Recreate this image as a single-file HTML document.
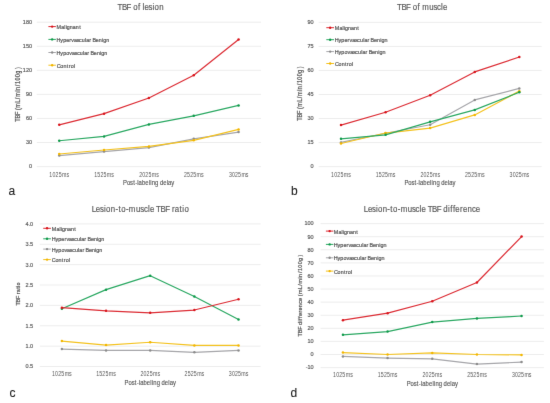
<!DOCTYPE html>
<html><head><meta charset="utf-8"><style>
html,body{margin:0;padding:0;background:#fff;}
body{width:550px;height:403px;overflow:hidden;}
svg{display:block;font-family:"Liberation Sans", sans-serif;}
</style></head><body>
<svg width="550" height="403" viewBox="0 0 550 403">
<defs><filter id="soft" x="0" y="0" width="550" height="403" filterUnits="userSpaceOnUse" color-interpolation-filters="sRGB"><feConvolveMatrix order="3" kernelMatrix="0 1 0 1 12 1 0 1 0" divisor="16" edgeMode="duplicate"/></filter></defs>
<g filter="url(#soft)">
<rect width="550" height="403" fill="#fff"/>
<line x1="36.80" y1="166.60" x2="261.00" y2="166.60" stroke="#ebebeb" stroke-width="0.9"/>
<text x="31.46" y="168.50" font-size="6.00" fill="#595959" stroke="#595959" stroke-width="0.18" transform="scale(0.920 1)">0</text>
<line x1="36.80" y1="142.53" x2="261.00" y2="142.53" stroke="#ebebeb" stroke-width="0.9"/>
<text x="28.16 31.46" y="144.43" font-size="6.00" fill="#595959" stroke="#595959" stroke-width="0.18" transform="scale(0.920 1)">30</text>
<line x1="36.80" y1="118.47" x2="261.00" y2="118.47" stroke="#ebebeb" stroke-width="0.9"/>
<text x="28.16 31.46" y="120.37" font-size="6.00" fill="#595959" stroke="#595959" stroke-width="0.18" transform="scale(0.920 1)">60</text>
<line x1="36.80" y1="94.40" x2="261.00" y2="94.40" stroke="#ebebeb" stroke-width="0.9"/>
<text x="28.16 31.46" y="96.30" font-size="6.00" fill="#595959" stroke="#595959" stroke-width="0.18" transform="scale(0.920 1)">90</text>
<line x1="36.80" y1="70.33" x2="261.00" y2="70.33" stroke="#ebebeb" stroke-width="0.9"/>
<text x="24.85 28.16 31.46" y="72.23" font-size="6.00" fill="#595959" stroke="#595959" stroke-width="0.18" transform="scale(0.920 1)">120</text>
<line x1="36.80" y1="46.27" x2="261.00" y2="46.27" stroke="#ebebeb" stroke-width="0.9"/>
<text x="24.85 28.16 31.46" y="48.17" font-size="6.00" fill="#595959" stroke="#595959" stroke-width="0.18" transform="scale(0.920 1)">150</text>
<line x1="36.80" y1="22.20" x2="261.00" y2="22.20" stroke="#ebebeb" stroke-width="0.9"/>
<text x="24.85 28.16 31.46" y="24.10" font-size="6.00" fill="#595959" stroke="#595959" stroke-width="0.18" transform="scale(0.920 1)">180</text>
<text x="61.68 65.57 69.45 73.33 77.48 83.06" y="176.80" font-size="6.60" fill="#595959" stroke="#595959" stroke-width="0.0" transform="scale(0.800 1)">1025ms</text>
<text x="117.73 121.62 125.50 129.38 133.53 139.11" y="176.80" font-size="6.60" fill="#595959" stroke="#595959" stroke-width="0.0" transform="scale(0.800 1)">1525ms</text>
<text x="173.94 177.80 181.66 185.51 189.64 195.18" y="176.80" font-size="6.60" fill="#595959" stroke="#595959" stroke-width="0.0" transform="scale(0.800 1)">2025ms</text>
<text x="229.99 233.85 237.71 241.56 245.69 251.23" y="176.80" font-size="6.60" fill="#595959" stroke="#595959" stroke-width="0.0" transform="scale(0.800 1)">2525ms</text>
<text x="286.12 289.96 293.81 297.65 301.76 307.29" y="176.80" font-size="6.60" fill="#595959" stroke="#595959" stroke-width="0.0" transform="scale(0.800 1)">3025ms</text>
<text x="139.91 144.21 147.86 151.33 153.57 155.95 157.52 161.30 165.16 169.01 170.74 172.47 176.23 179.78 181.69 185.54 189.39 190.95 194.65" y="185.20" font-size="6.70" fill="#595959" stroke="#595959" stroke-width="0.15" transform="scale(0.880 1)">Post-labeling&#160;delay</text>
<text x="133.55 138.50 143.81 148.74 151.30 156.73 159.41 161.96 164.14 168.87 173.23 175.56 180.87" y="10.40" font-size="8.90" fill="#595959" stroke="#595959" stroke-width="0.18" transform="scale(0.880 1)">TBF&#160;of&#160;lesion</text>
<g transform="translate(17.60,94.50) rotate(-90)">
<text x="-31.00 -27.23 -23.19 -19.43 -17.58 -15.04 -9.42 -5.38 -2.70 3.31 5.08 9.52 12.02 15.91 19.80 23.56 27.17 29.02" y="2.00" font-size="6.30" fill="#595959" stroke="#595959" stroke-width="0.24" transform="scale(0.880 1)">TBF&#160;(mL/min/100g&#160;)</text>
</g>
<text x="8.60" y="195.00" font-size="12" fill="#222222" stroke="#222222" stroke-width="0.1">a</text>
<polyline points="59.22,155.61 104.06,151.60 148.90,147.59 193.74,138.84 238.58,132.10" fill="none" stroke="#a6a6aa" stroke-width="1.2" stroke-linejoin="round"/>
<circle cx="59.22" cy="155.61" r="1.25" fill="#8c8c8c"/>
<circle cx="104.06" cy="151.60" r="1.25" fill="#8c8c8c"/>
<circle cx="148.90" cy="147.59" r="1.25" fill="#8c8c8c"/>
<circle cx="193.74" cy="138.84" r="1.25" fill="#8c8c8c"/>
<circle cx="238.58" cy="132.10" r="1.25" fill="#8c8c8c"/>
<polyline points="59.22,154.01 104.06,149.99 148.90,146.38 193.74,140.37 238.58,129.38" fill="none" stroke="#f4c21e" stroke-width="1.2" stroke-linejoin="round"/>
<circle cx="59.22" cy="154.01" r="1.25" fill="#f2b600"/>
<circle cx="104.06" cy="149.99" r="1.25" fill="#f2b600"/>
<circle cx="148.90" cy="146.38" r="1.25" fill="#f2b600"/>
<circle cx="193.74" cy="140.37" r="1.25" fill="#f2b600"/>
<circle cx="238.58" cy="129.38" r="1.25" fill="#f2b600"/>
<polyline points="59.22,140.77 104.06,136.44 148.90,124.40 193.74,115.82 238.58,105.39" fill="none" stroke="#2aa862" stroke-width="1.2" stroke-linejoin="round"/>
<circle cx="59.22" cy="140.77" r="1.25" fill="#0f9a4a"/>
<circle cx="104.06" cy="136.44" r="1.25" fill="#0f9a4a"/>
<circle cx="148.90" cy="124.40" r="1.25" fill="#0f9a4a"/>
<circle cx="193.74" cy="115.82" r="1.25" fill="#0f9a4a"/>
<circle cx="238.58" cy="105.39" r="1.25" fill="#0f9a4a"/>
<polyline points="59.22,124.80 104.06,113.65 148.90,98.01 193.74,75.31 238.58,39.45" fill="none" stroke="#dc2c34" stroke-width="1.2" stroke-linejoin="round"/>
<circle cx="59.22" cy="124.80" r="1.25" fill="#d9161d"/>
<circle cx="104.06" cy="113.65" r="1.25" fill="#d9161d"/>
<circle cx="148.90" cy="98.01" r="1.25" fill="#d9161d"/>
<circle cx="193.74" cy="75.31" r="1.25" fill="#d9161d"/>
<circle cx="238.58" cy="39.45" r="1.25" fill="#d9161d"/>
<line x1="48.40" y1="26.60" x2="55.90" y2="26.60" stroke="#dc2c34" stroke-width="1.0"/>
<circle cx="52.15" cy="26.60" r="1.2" fill="#d9161d"/>
<text x="64.28 69.65 73.05 74.62 76.00 79.38 82.80 86.21 89.97" y="29.10" font-size="6.10" fill="#595959" stroke="#595959" stroke-width="0.24" transform="scale(0.880 1)">Malignant</text>
<line x1="48.40" y1="39.40" x2="55.90" y2="39.40" stroke="#2aa862" stroke-width="1.0"/>
<circle cx="52.15" cy="39.40" r="1.2" fill="#0f9a4a"/>
<text x="64.28 68.61 71.76 75.24 78.79 81.01 84.01 87.14 89.91 92.97 96.53 97.94 101.43 103.55 105.00 108.88 112.36 115.92 117.31 120.70" y="41.90" font-size="6.10" fill="#595959" stroke="#595959" stroke-width="0.24" transform="scale(0.880 1)">Hypervascular&#160;Benign</text>
<line x1="48.40" y1="52.50" x2="55.90" y2="52.50" stroke="#a6a6aa" stroke-width="1.0"/>
<circle cx="52.15" cy="52.50" r="1.2" fill="#8c8c8c"/>
<text x="64.28 68.60 71.75 75.33 78.82 81.81 84.93 87.70 90.75 94.31 95.72 99.20 101.31 102.76 106.63 110.10 113.67 115.05 118.43" y="55.00" font-size="6.10" fill="#595959" stroke="#595959" stroke-width="0.24" transform="scale(0.880 1)">Hypovascular&#160;Benign</text>
<line x1="48.40" y1="65.20" x2="55.90" y2="65.20" stroke="#f4c21e" stroke-width="1.0"/>
<circle cx="52.15" cy="65.20" r="1.2" fill="#f2b600"/>
<text x="64.47 68.55 72.11 75.85 78.00 80.30 83.85" y="67.70" font-size="6.10" fill="#595959" stroke="#595959" stroke-width="0.24" transform="scale(0.880 1)">Control</text>
<line x1="318.70" y1="166.60" x2="541.60" y2="166.60" stroke="#ebebeb" stroke-width="0.9"/>
<text x="337.44" y="168.50" font-size="6.00" fill="#595959" stroke="#595959" stroke-width="0.18" transform="scale(0.920 1)">0</text>
<line x1="318.70" y1="142.57" x2="541.60" y2="142.57" stroke="#ebebeb" stroke-width="0.9"/>
<text x="334.15 337.46" y="144.47" font-size="6.00" fill="#595959" stroke="#595959" stroke-width="0.18" transform="scale(0.920 1)">15</text>
<line x1="318.70" y1="118.53" x2="541.60" y2="118.53" stroke="#ebebeb" stroke-width="0.9"/>
<text x="334.14 337.44" y="120.43" font-size="6.00" fill="#595959" stroke="#595959" stroke-width="0.18" transform="scale(0.920 1)">30</text>
<line x1="318.70" y1="94.50" x2="541.60" y2="94.50" stroke="#ebebeb" stroke-width="0.9"/>
<text x="334.15 337.46" y="96.40" font-size="6.00" fill="#595959" stroke="#595959" stroke-width="0.18" transform="scale(0.920 1)">45</text>
<line x1="318.70" y1="70.47" x2="541.60" y2="70.47" stroke="#ebebeb" stroke-width="0.9"/>
<text x="334.14 337.44" y="72.37" font-size="6.00" fill="#595959" stroke="#595959" stroke-width="0.18" transform="scale(0.920 1)">60</text>
<line x1="318.70" y1="46.43" x2="541.60" y2="46.43" stroke="#ebebeb" stroke-width="0.9"/>
<text x="334.15 337.46" y="48.33" font-size="6.00" fill="#595959" stroke="#595959" stroke-width="0.18" transform="scale(0.920 1)">75</text>
<line x1="318.70" y1="22.40" x2="541.60" y2="22.40" stroke="#ebebeb" stroke-width="0.9"/>
<text x="334.14 337.44" y="24.30" font-size="6.00" fill="#595959" stroke="#595959" stroke-width="0.18" transform="scale(0.920 1)">90</text>
<text x="413.90 417.78 421.66 425.54 429.69 435.27" y="176.70" font-size="6.60" fill="#595959" stroke="#595959" stroke-width="0.0" transform="scale(0.800 1)">1025ms</text>
<text x="469.62 473.50 477.38 481.27 485.42 491.00" y="176.70" font-size="6.60" fill="#595959" stroke="#595959" stroke-width="0.0" transform="scale(0.800 1)">1525ms</text>
<text x="525.51 529.36 533.22 537.07 541.20 546.74" y="176.70" font-size="6.60" fill="#595959" stroke="#595959" stroke-width="0.0" transform="scale(0.800 1)">2025ms</text>
<text x="581.23 585.09 588.94 592.80 596.92 602.46" y="176.70" font-size="6.60" fill="#595959" stroke="#595959" stroke-width="0.0" transform="scale(0.800 1)">2525ms</text>
<text x="637.03 640.88 644.72 648.56 652.68 658.20" y="176.70" font-size="6.60" fill="#595959" stroke="#595959" stroke-width="0.0" transform="scale(0.800 1)">3025ms</text>
<text x="459.68 463.98 467.62 471.09 473.31 475.70 477.26 481.03 484.88 488.72 490.45 492.18 495.93 499.47 501.38 505.23 509.07 510.63 514.32" y="185.40" font-size="6.70" fill="#595959" stroke="#595959" stroke-width="0.15" transform="scale(0.880 1)">Post-labeling&#160;delay</text>
<text x="451.28 456.22 461.51 466.43 468.99 474.41 477.08 479.78 487.67 492.53 496.62 501.13 503.31" y="10.40" font-size="8.90" fill="#595959" stroke="#595959" stroke-width="0.18" transform="scale(0.880 1)">TBF&#160;of&#160;muscle</text>
<g transform="translate(299.60,93.60) rotate(-90)">
<text x="-30.83 -27.08 -23.06 -19.32 -17.49 -14.96 -9.37 -5.35 -2.69 3.29 5.05 9.47 11.95 15.82 19.69 23.43 27.02 28.86" y="2.00" font-size="6.30" fill="#595959" stroke="#595959" stroke-width="0.24" transform="scale(0.880 1)">TBF&#160;(mL/min/100g&#160;)</text>
</g>
<text x="291.00" y="194.80" font-size="12" fill="#222222" stroke="#222222" stroke-width="0.1">b</text>
<polyline points="340.99,142.41 385.57,133.27 430.15,124.78 474.73,99.95 519.31,88.41" fill="none" stroke="#a6a6aa" stroke-width="1.2" stroke-linejoin="round"/>
<circle cx="340.99" cy="142.41" r="1.25" fill="#8c8c8c"/>
<circle cx="385.57" cy="133.27" r="1.25" fill="#8c8c8c"/>
<circle cx="430.15" cy="124.78" r="1.25" fill="#8c8c8c"/>
<circle cx="474.73" cy="99.95" r="1.25" fill="#8c8c8c"/>
<circle cx="519.31" cy="88.41" r="1.25" fill="#8c8c8c"/>
<polyline points="340.99,143.53 385.57,133.03 430.15,128.07 474.73,114.93 519.31,91.14" fill="none" stroke="#f4c21e" stroke-width="1.2" stroke-linejoin="round"/>
<circle cx="340.99" cy="143.53" r="1.25" fill="#f2b600"/>
<circle cx="385.57" cy="133.03" r="1.25" fill="#f2b600"/>
<circle cx="430.15" cy="128.07" r="1.25" fill="#f2b600"/>
<circle cx="474.73" cy="114.93" r="1.25" fill="#f2b600"/>
<circle cx="519.31" cy="91.14" r="1.25" fill="#f2b600"/>
<polyline points="340.99,138.80 385.57,134.80 430.15,121.82 474.73,109.88 519.31,92.26" fill="none" stroke="#2aa862" stroke-width="1.2" stroke-linejoin="round"/>
<circle cx="340.99" cy="138.80" r="1.25" fill="#0f9a4a"/>
<circle cx="385.57" cy="134.80" r="1.25" fill="#0f9a4a"/>
<circle cx="430.15" cy="121.82" r="1.25" fill="#0f9a4a"/>
<circle cx="474.73" cy="109.88" r="1.25" fill="#0f9a4a"/>
<circle cx="519.31" cy="92.26" r="1.25" fill="#0f9a4a"/>
<polyline points="340.99,125.05 385.57,112.28 430.15,95.30 474.73,71.91 519.31,57.01" fill="none" stroke="#dc2c34" stroke-width="1.2" stroke-linejoin="round"/>
<circle cx="340.99" cy="125.05" r="1.25" fill="#d9161d"/>
<circle cx="385.57" cy="112.28" r="1.25" fill="#d9161d"/>
<circle cx="430.15" cy="95.30" r="1.25" fill="#d9161d"/>
<circle cx="474.73" cy="71.91" r="1.25" fill="#d9161d"/>
<circle cx="519.31" cy="57.01" r="1.25" fill="#d9161d"/>
<line x1="326.30" y1="27.70" x2="334.00" y2="27.70" stroke="#dc2c34" stroke-width="1.0"/>
<circle cx="330.15" cy="27.70" r="1.2" fill="#d9161d"/>
<text x="380.42 385.78 389.19 390.75 392.13 395.52 398.94 402.35 406.11" y="30.20" font-size="6.10" fill="#595959" stroke="#595959" stroke-width="0.24" transform="scale(0.880 1)">Malignant</text>
<line x1="326.30" y1="39.70" x2="334.00" y2="39.70" stroke="#2aa862" stroke-width="1.0"/>
<circle cx="330.15" cy="39.70" r="1.2" fill="#0f9a4a"/>
<text x="380.42 384.74 387.90 391.38 394.93 397.15 400.15 403.28 406.04 409.10 412.67 414.08 417.56 419.68 421.14 425.01 428.49 432.06 433.44 436.83" y="42.20" font-size="6.10" fill="#595959" stroke="#595959" stroke-width="0.24" transform="scale(0.880 1)">Hypervascular&#160;Benign</text>
<line x1="326.30" y1="51.60" x2="334.00" y2="51.60" stroke="#a6a6aa" stroke-width="1.0"/>
<circle cx="330.15" cy="51.60" r="1.2" fill="#8c8c8c"/>
<text x="380.42 384.74 387.89 391.46 394.96 397.95 401.07 403.83 406.89 410.45 411.85 415.33 417.45 418.90 422.77 426.24 429.80 431.18 434.56" y="54.10" font-size="6.10" fill="#595959" stroke="#595959" stroke-width="0.24" transform="scale(0.880 1)">Hypovascular&#160;Benign</text>
<line x1="326.30" y1="63.50" x2="334.00" y2="63.50" stroke="#f4c21e" stroke-width="1.0"/>
<circle cx="330.15" cy="63.50" r="1.2" fill="#f2b600"/>
<text x="380.61 384.69 388.25 391.99 394.13 396.43 399.98" y="66.00" font-size="6.10" fill="#595959" stroke="#595959" stroke-width="0.24" transform="scale(0.880 1)">Control</text>
<line x1="39.80" y1="366.50" x2="260.60" y2="366.50" stroke="#ebebeb" stroke-width="0.9"/>
<text x="27.72 31.03 32.68" y="368.40" font-size="6.00" fill="#595959" stroke="#595959" stroke-width="0.18" transform="scale(0.920 1)">0.5</text>
<line x1="39.80" y1="346.13" x2="260.60" y2="346.13" stroke="#ebebeb" stroke-width="0.9"/>
<text x="27.71 31.02 32.66" y="348.03" font-size="6.00" fill="#595959" stroke="#595959" stroke-width="0.18" transform="scale(0.920 1)">1.0</text>
<line x1="39.80" y1="325.76" x2="260.60" y2="325.76" stroke="#ebebeb" stroke-width="0.9"/>
<text x="27.72 31.03 32.68" y="327.66" font-size="6.00" fill="#595959" stroke="#595959" stroke-width="0.18" transform="scale(0.920 1)">1.5</text>
<line x1="39.80" y1="305.39" x2="260.60" y2="305.39" stroke="#ebebeb" stroke-width="0.9"/>
<text x="27.71 31.02 32.66" y="307.29" font-size="6.00" fill="#595959" stroke="#595959" stroke-width="0.18" transform="scale(0.920 1)">2.0</text>
<line x1="39.80" y1="285.01" x2="260.60" y2="285.01" stroke="#ebebeb" stroke-width="0.9"/>
<text x="27.72 31.03 32.68" y="286.91" font-size="6.00" fill="#595959" stroke="#595959" stroke-width="0.18" transform="scale(0.920 1)">2.5</text>
<line x1="39.80" y1="264.64" x2="260.60" y2="264.64" stroke="#ebebeb" stroke-width="0.9"/>
<text x="27.71 31.02 32.66" y="266.54" font-size="6.00" fill="#595959" stroke="#595959" stroke-width="0.18" transform="scale(0.920 1)">3.0</text>
<line x1="39.80" y1="244.27" x2="260.60" y2="244.27" stroke="#ebebeb" stroke-width="0.9"/>
<text x="27.72 31.03 32.68" y="246.17" font-size="6.00" fill="#595959" stroke="#595959" stroke-width="0.18" transform="scale(0.920 1)">3.5</text>
<line x1="39.80" y1="223.90" x2="260.60" y2="223.90" stroke="#ebebeb" stroke-width="0.9"/>
<text x="27.71 31.02 32.66" y="225.80" font-size="6.00" fill="#595959" stroke="#595959" stroke-width="0.18" transform="scale(0.920 1)">4.0</text>
<text x="65.01 68.89 72.77 76.65 80.81 86.38" y="376.30" font-size="6.60" fill="#595959" stroke="#595959" stroke-width="0.0" transform="scale(0.800 1)">1025ms</text>
<text x="120.21 124.09 127.97 131.85 136.01 141.58" y="376.30" font-size="6.60" fill="#595959" stroke="#595959" stroke-width="0.0" transform="scale(0.800 1)">1525ms</text>
<text x="175.57 179.42 183.28 187.14 191.26 196.80" y="376.30" font-size="6.60" fill="#595959" stroke="#595959" stroke-width="0.0" transform="scale(0.800 1)">2025ms</text>
<text x="230.77 234.62 238.48 242.34 246.46 252.00" y="376.30" font-size="6.60" fill="#595959" stroke="#595959" stroke-width="0.0" transform="scale(0.800 1)">2525ms</text>
<text x="286.04 289.89 293.73 297.58 301.69 307.21" y="376.30" font-size="6.60" fill="#595959" stroke="#595959" stroke-width="0.0" transform="scale(0.800 1)">3025ms</text>
<text x="141.61 145.92 149.58 153.06 155.30 157.69 159.26 163.05 166.91 170.77 172.50 174.24 178.00 181.56 183.47 187.34 191.19 192.76 196.46" y="385.20" font-size="6.70" fill="#595959" stroke="#595959" stroke-width="0.15" transform="scale(0.880 1)">Post-labeling&#160;delay</text>
<text x="104.26 108.95 113.73 118.15 120.51 125.88 131.13 134.65 137.80 143.06 146.45 154.45 159.38 163.53 168.11 170.32 175.26 177.41 182.42 187.79 192.78 195.47 198.69 204.09 207.22 209.59" y="212.10" font-size="8.90" fill="#595959" stroke="#595959" stroke-width="0.18" transform="scale(0.880 1)">Lesion-to-muscle&#160;TBF&#160;ratio</text>
<g transform="translate(17.90,294.00) rotate(-90)">
<text x="-13.21 -9.63 -5.80 -2.23 -0.31 1.99 5.85 8.08 9.77" y="2.00" font-size="6.20" fill="#595959" stroke="#595959" stroke-width="0.24" transform="scale(0.880 1)">TBF&#160;ratio</text>
</g>
<text x="9.40" y="396.80" font-size="12" fill="#222222" stroke="#222222" stroke-width="0.1">c</text>
<polyline points="61.88,349.06 106.04,350.41 150.20,350.41 194.36,352.32 238.52,350.41" fill="none" stroke="#a6a6aa" stroke-width="1.2" stroke-linejoin="round"/>
<circle cx="61.88" cy="349.06" r="1.25" fill="#8c8c8c"/>
<circle cx="106.04" cy="350.41" r="1.25" fill="#8c8c8c"/>
<circle cx="150.20" cy="350.41" r="1.25" fill="#8c8c8c"/>
<circle cx="194.36" cy="352.32" r="1.25" fill="#8c8c8c"/>
<circle cx="238.52" cy="350.41" r="1.25" fill="#8c8c8c"/>
<polyline points="61.88,341.04 106.04,345.07 150.20,342.26 194.36,345.40 238.52,345.40" fill="none" stroke="#f4c21e" stroke-width="1.2" stroke-linejoin="round"/>
<circle cx="61.88" cy="341.04" r="1.25" fill="#f2b600"/>
<circle cx="106.04" cy="345.07" r="1.25" fill="#f2b600"/>
<circle cx="150.20" cy="342.26" r="1.25" fill="#f2b600"/>
<circle cx="194.36" cy="345.40" r="1.25" fill="#f2b600"/>
<circle cx="238.52" cy="345.40" r="1.25" fill="#f2b600"/>
<polyline points="61.88,308.81 106.04,289.66 150.20,275.68 194.36,296.42 238.52,319.56" fill="none" stroke="#2aa862" stroke-width="1.2" stroke-linejoin="round"/>
<circle cx="61.88" cy="308.81" r="1.25" fill="#0f9a4a"/>
<circle cx="106.04" cy="289.66" r="1.25" fill="#0f9a4a"/>
<circle cx="150.20" cy="275.68" r="1.25" fill="#0f9a4a"/>
<circle cx="194.36" cy="296.42" r="1.25" fill="#0f9a4a"/>
<circle cx="238.52" cy="319.56" r="1.25" fill="#0f9a4a"/>
<polyline points="61.88,307.63 106.04,310.80 150.20,312.80 194.36,310.03 238.52,299.27" fill="none" stroke="#dc2c34" stroke-width="1.2" stroke-linejoin="round"/>
<circle cx="61.88" cy="307.63" r="1.25" fill="#d9161d"/>
<circle cx="106.04" cy="310.80" r="1.25" fill="#d9161d"/>
<circle cx="150.20" cy="312.80" r="1.25" fill="#d9161d"/>
<circle cx="194.36" cy="310.03" r="1.25" fill="#d9161d"/>
<circle cx="238.52" cy="299.27" r="1.25" fill="#d9161d"/>
<line x1="43.20" y1="228.30" x2="50.90" y2="228.30" stroke="#dc2c34" stroke-width="1.0"/>
<circle cx="47.05" cy="228.30" r="1.2" fill="#d9161d"/>
<text x="58.71 64.08 67.49 69.05 70.43 73.82 77.23 80.65 84.40" y="230.80" font-size="6.10" fill="#595959" stroke="#595959" stroke-width="0.24" transform="scale(0.880 1)">Malignant</text>
<line x1="43.20" y1="238.80" x2="50.90" y2="238.80" stroke="#2aa862" stroke-width="1.0"/>
<circle cx="47.05" cy="238.80" r="1.2" fill="#0f9a4a"/>
<text x="58.71 63.04 66.20 69.68 73.22 75.45 78.44 81.57 84.34 87.40 90.97 92.38 95.86 97.98 99.43 103.31 106.79 110.36 111.74 115.13" y="241.30" font-size="6.10" fill="#595959" stroke="#595959" stroke-width="0.24" transform="scale(0.880 1)">Hypervascular&#160;Benign</text>
<line x1="43.20" y1="249.10" x2="50.90" y2="249.10" stroke="#a6a6aa" stroke-width="1.0"/>
<circle cx="47.05" cy="249.10" r="1.2" fill="#8c8c8c"/>
<text x="58.71 63.03 66.18 69.76 73.25 76.24 79.37 82.13 85.18 88.74 90.15 93.63 95.74 97.20 101.06 104.54 108.10 109.48 112.86" y="251.60" font-size="6.10" fill="#595959" stroke="#595959" stroke-width="0.24" transform="scale(0.880 1)">Hypovascular&#160;Benign</text>
<line x1="43.20" y1="259.60" x2="50.90" y2="259.60" stroke="#f4c21e" stroke-width="1.0"/>
<circle cx="47.05" cy="259.60" r="1.2" fill="#f2b600"/>
<text x="58.90 62.98 66.54 70.28 72.43 74.73 78.28" y="262.10" font-size="6.10" fill="#595959" stroke="#595959" stroke-width="0.24" transform="scale(0.880 1)">Control</text>
<line x1="320.60" y1="367.60" x2="543.90" y2="367.60" stroke="#ebebeb" stroke-width="0.9"/>
<text x="332.26 334.24 337.55" y="369.50" font-size="6.00" fill="#595959" stroke="#595959" stroke-width="0.18" transform="scale(0.920 1)">-10</text>
<line x1="320.60" y1="354.51" x2="543.90" y2="354.51" stroke="#ebebeb" stroke-width="0.9"/>
<text x="337.55" y="356.41" font-size="6.00" fill="#595959" stroke="#595959" stroke-width="0.18" transform="scale(0.920 1)">0</text>
<line x1="320.60" y1="341.42" x2="543.90" y2="341.42" stroke="#ebebeb" stroke-width="0.9"/>
<text x="334.24 337.55" y="343.32" font-size="6.00" fill="#595959" stroke="#595959" stroke-width="0.18" transform="scale(0.920 1)">10</text>
<line x1="320.60" y1="328.33" x2="543.90" y2="328.33" stroke="#ebebeb" stroke-width="0.9"/>
<text x="334.24 337.55" y="330.23" font-size="6.00" fill="#595959" stroke="#595959" stroke-width="0.18" transform="scale(0.920 1)">20</text>
<line x1="320.60" y1="315.24" x2="543.90" y2="315.24" stroke="#ebebeb" stroke-width="0.9"/>
<text x="334.24 337.55" y="317.14" font-size="6.00" fill="#595959" stroke="#595959" stroke-width="0.18" transform="scale(0.920 1)">30</text>
<line x1="320.60" y1="302.15" x2="543.90" y2="302.15" stroke="#ebebeb" stroke-width="0.9"/>
<text x="334.24 337.55" y="304.05" font-size="6.00" fill="#595959" stroke="#595959" stroke-width="0.18" transform="scale(0.920 1)">40</text>
<line x1="320.60" y1="289.05" x2="543.90" y2="289.05" stroke="#ebebeb" stroke-width="0.9"/>
<text x="334.24 337.55" y="290.95" font-size="6.00" fill="#595959" stroke="#595959" stroke-width="0.18" transform="scale(0.920 1)">50</text>
<line x1="320.60" y1="275.96" x2="543.90" y2="275.96" stroke="#ebebeb" stroke-width="0.9"/>
<text x="334.24 337.55" y="277.86" font-size="6.00" fill="#595959" stroke="#595959" stroke-width="0.18" transform="scale(0.920 1)">60</text>
<line x1="320.60" y1="262.87" x2="543.90" y2="262.87" stroke="#ebebeb" stroke-width="0.9"/>
<text x="334.24 337.55" y="264.77" font-size="6.00" fill="#595959" stroke="#595959" stroke-width="0.18" transform="scale(0.920 1)">70</text>
<line x1="320.60" y1="249.78" x2="543.90" y2="249.78" stroke="#ebebeb" stroke-width="0.9"/>
<text x="334.24 337.55" y="251.68" font-size="6.00" fill="#595959" stroke="#595959" stroke-width="0.18" transform="scale(0.920 1)">80</text>
<line x1="320.60" y1="236.69" x2="543.90" y2="236.69" stroke="#ebebeb" stroke-width="0.9"/>
<text x="334.24 337.55" y="238.59" font-size="6.00" fill="#595959" stroke="#595959" stroke-width="0.18" transform="scale(0.920 1)">90</text>
<line x1="320.60" y1="223.60" x2="543.90" y2="223.60" stroke="#ebebeb" stroke-width="0.9"/>
<text x="330.94 334.24 337.55" y="225.50" font-size="6.00" fill="#595959" stroke="#595959" stroke-width="0.18" transform="scale(0.920 1)">100</text>
<text x="416.32 420.20 424.08 427.97 432.12 437.70" y="377.00" font-size="6.60" fill="#595959" stroke="#595959" stroke-width="0.0" transform="scale(0.800 1)">1025ms</text>
<text x="472.15 476.03 479.91 483.79 487.94 493.52" y="377.00" font-size="6.60" fill="#595959" stroke="#595959" stroke-width="0.0" transform="scale(0.800 1)">1525ms</text>
<text x="528.13 531.99 535.84 539.70 543.82 549.36" y="377.00" font-size="6.60" fill="#595959" stroke="#595959" stroke-width="0.0" transform="scale(0.800 1)">2025ms</text>
<text x="583.96 587.81 591.67 595.52 599.65 605.19" y="377.00" font-size="6.60" fill="#595959" stroke="#595959" stroke-width="0.0" transform="scale(0.800 1)">2525ms</text>
<text x="639.86 643.70 647.54 651.39 655.50 661.02" y="377.00" font-size="6.60" fill="#595959" stroke="#595959" stroke-width="0.0" transform="scale(0.800 1)">3025ms</text>
<text x="462.18 466.49 470.15 473.63 475.87 478.26 479.82 483.62 487.48 491.34 493.07 494.81 498.57 502.13 504.04 507.90 511.76 513.33 517.03" y="386.00" font-size="6.70" fill="#595959" stroke="#595959" stroke-width="0.15" transform="scale(0.880 1)">Post-labeling&#160;delay</text>
<text x="413.47 418.12 422.86 427.24 429.58 434.91 440.11 443.60 446.72 451.94 455.30 463.23 468.12 472.24 476.78 478.97 483.87 485.99 490.96 496.29 501.24 503.80 509.11 511.57 514.66 517.48 522.75 526.04 531.22 536.26 540.67" y="212.10" font-size="8.90" fill="#595959" stroke="#595959" stroke-width="0.18" transform="scale(0.880 1)">Lesion-to-muscle&#160;TBF&#160;difference</text>
<g transform="translate(299.70,295.60) rotate(-90)">
<text x="-46.45 -42.79 -38.86 -35.21 -33.32 -29.41 -27.60 -25.32 -23.24 -19.35 -16.93 -13.11 -9.39 -6.14 -2.53 -0.74 1.73 7.19 11.12 13.72 19.56 21.28 25.59 28.01 31.79 35.57 39.22 42.73 44.53" y="2.00" font-size="6.20" fill="#595959" stroke="#595959" stroke-width="0.24" transform="scale(0.880 1)">TBF&#160;difference&#160;(mL/min/100g&#160;)</text>
</g>
<text x="290.60" y="396.50" font-size="12" fill="#222222" stroke="#222222" stroke-width="0.1">d</text>
<polyline points="342.93,356.47 387.59,358.04 432.25,358.83 476.91,364.07 521.57,362.10" fill="none" stroke="#a6a6aa" stroke-width="1.2" stroke-linejoin="round"/>
<circle cx="342.93" cy="356.47" r="1.25" fill="#8c8c8c"/>
<circle cx="387.59" cy="358.04" r="1.25" fill="#8c8c8c"/>
<circle cx="432.25" cy="358.83" r="1.25" fill="#8c8c8c"/>
<circle cx="476.91" cy="364.07" r="1.25" fill="#8c8c8c"/>
<circle cx="521.57" cy="362.10" r="1.25" fill="#8c8c8c"/>
<polyline points="342.93,352.55 387.59,354.51 432.25,352.94 476.91,354.51 521.57,354.90" fill="none" stroke="#f4c21e" stroke-width="1.2" stroke-linejoin="round"/>
<circle cx="342.93" cy="352.55" r="1.25" fill="#f2b600"/>
<circle cx="387.59" cy="354.51" r="1.25" fill="#f2b600"/>
<circle cx="432.25" cy="352.94" r="1.25" fill="#f2b600"/>
<circle cx="476.91" cy="354.51" r="1.25" fill="#f2b600"/>
<circle cx="521.57" cy="354.90" r="1.25" fill="#f2b600"/>
<polyline points="342.93,334.87 387.59,331.60 432.25,322.04 476.91,318.38 521.57,316.02" fill="none" stroke="#2aa862" stroke-width="1.2" stroke-linejoin="round"/>
<circle cx="342.93" cy="334.87" r="1.25" fill="#0f9a4a"/>
<circle cx="387.59" cy="331.60" r="1.25" fill="#0f9a4a"/>
<circle cx="432.25" cy="322.04" r="1.25" fill="#0f9a4a"/>
<circle cx="476.91" cy="318.38" r="1.25" fill="#0f9a4a"/>
<circle cx="521.57" cy="316.02" r="1.25" fill="#0f9a4a"/>
<polyline points="342.93,320.21 387.59,313.14 432.25,301.23 476.91,282.51 521.57,236.56" fill="none" stroke="#dc2c34" stroke-width="1.2" stroke-linejoin="round"/>
<circle cx="342.93" cy="320.21" r="1.25" fill="#d9161d"/>
<circle cx="387.59" cy="313.14" r="1.25" fill="#d9161d"/>
<circle cx="432.25" cy="301.23" r="1.25" fill="#d9161d"/>
<circle cx="476.91" cy="282.51" r="1.25" fill="#d9161d"/>
<circle cx="521.57" cy="236.56" r="1.25" fill="#d9161d"/>
<line x1="325.90" y1="231.10" x2="333.40" y2="231.10" stroke="#dc2c34" stroke-width="1.0"/>
<circle cx="329.65" cy="231.10" r="1.2" fill="#d9161d"/>
<text x="379.28 384.65 388.05 389.62 391.00 394.38 397.80 401.21 404.97" y="233.60" font-size="6.10" fill="#595959" stroke="#595959" stroke-width="0.24" transform="scale(0.880 1)">Malignant</text>
<line x1="325.90" y1="244.40" x2="333.40" y2="244.40" stroke="#2aa862" stroke-width="1.0"/>
<circle cx="329.65" cy="244.40" r="1.2" fill="#0f9a4a"/>
<text x="379.28 383.61 386.76 390.24 393.79 396.01 399.01 402.14 404.91 407.97 411.53 412.94 416.43 418.55 420.00 423.88 427.36 430.92 432.31 435.70" y="246.90" font-size="6.10" fill="#595959" stroke="#595959" stroke-width="0.24" transform="scale(0.880 1)">Hypervascular&#160;Benign</text>
<line x1="325.90" y1="257.80" x2="333.40" y2="257.80" stroke="#a6a6aa" stroke-width="1.0"/>
<circle cx="329.65" cy="257.80" r="1.2" fill="#8c8c8c"/>
<text x="379.28 383.60 386.75 390.33 393.82 396.81 399.93 402.70 405.75 409.31 410.72 414.20 416.31 417.76 421.63 425.10 428.67 430.05 433.43" y="260.30" font-size="6.10" fill="#595959" stroke="#595959" stroke-width="0.24" transform="scale(0.880 1)">Hypovascular&#160;Benign</text>
<line x1="325.90" y1="271.10" x2="333.40" y2="271.10" stroke="#f4c21e" stroke-width="1.0"/>
<circle cx="329.65" cy="271.10" r="1.2" fill="#f2b600"/>
<text x="379.47 383.55 387.11 390.85 393.00 395.30 398.85" y="273.60" font-size="6.10" fill="#595959" stroke="#595959" stroke-width="0.24" transform="scale(0.880 1)">Control</text>
</g>
</svg>
</body></html>
